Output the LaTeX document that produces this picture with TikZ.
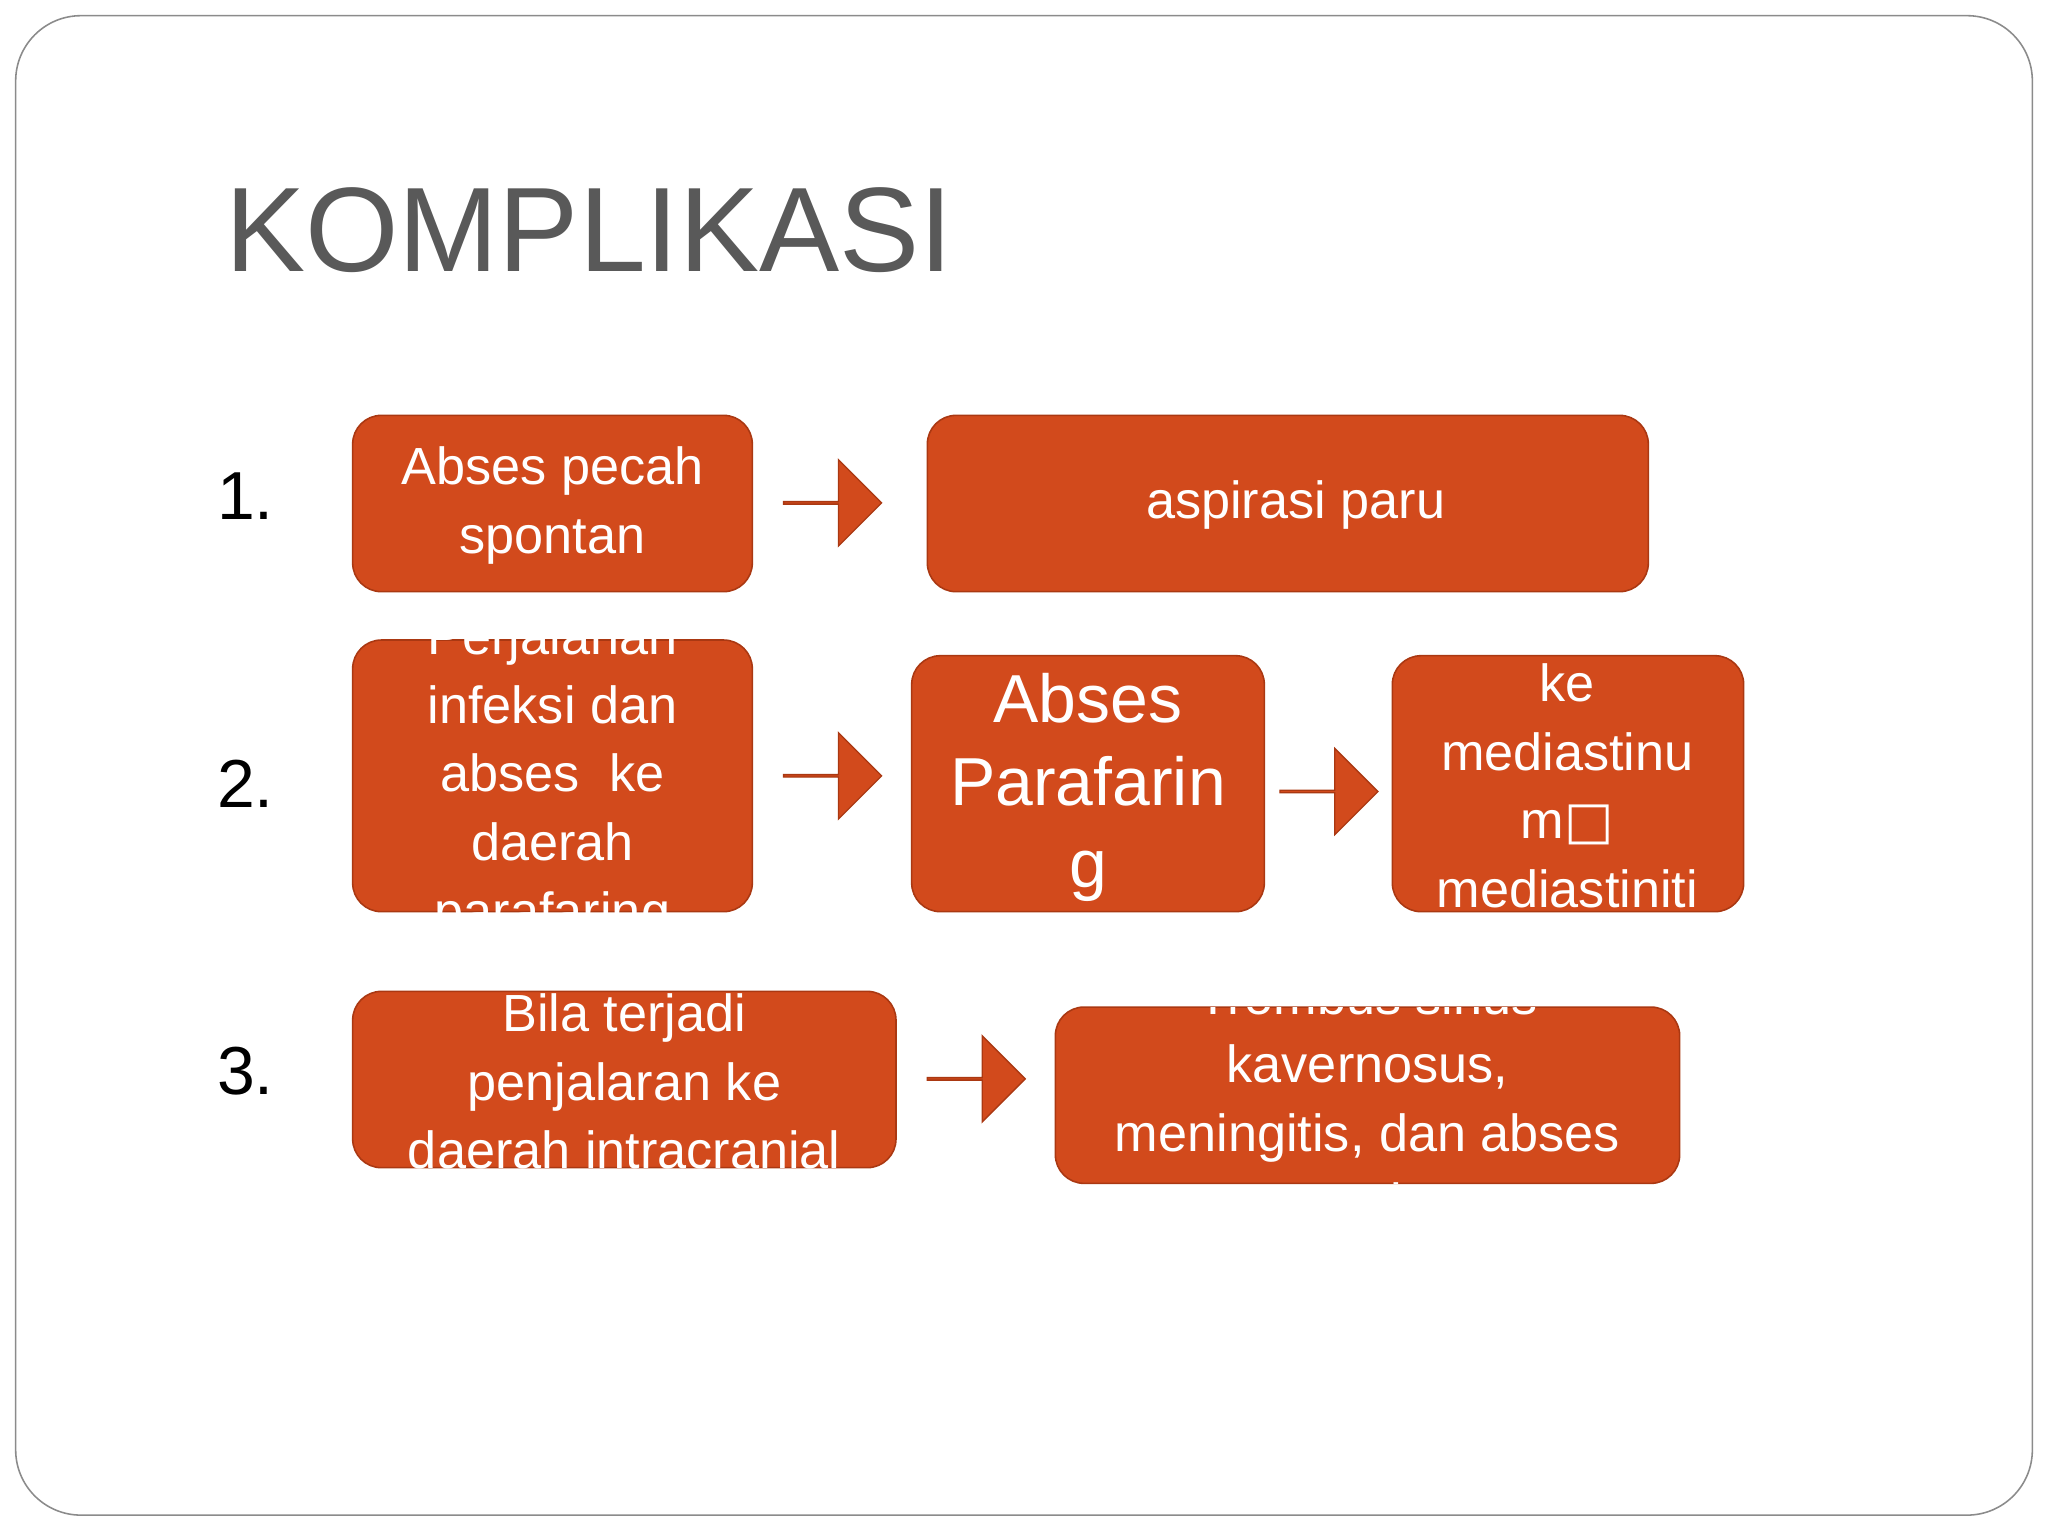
\documentclass[tikz,border=0pt]{standalone}
\usepackage{fontspec}
\setmainfont{Liberation Sans}
\newfontfamily\symfont{DejaVu Sans}
\usetikzlibrary{shapes.arrows}
\definecolor{boxfill}{RGB}{210,74,28}
\definecolor{boxline}{RGB}{170,56,18}
\definecolor{titlegray}{RGB}{89,89,89}
\tikzset{every picture/.style={line width=0.75pt}}
\tikzset{
  stepbox/.style={draw=boxline,fill=boxfill,rounded corners=22pt,line width=1.2pt},
  boxtext/.style={text=white,font=\fontsize{40}{52.5}\selectfont,align=center,inner sep=0pt},
  blockarrow/.style={single arrow,draw=boxline,fill=boxfill,minimum width=66pt,
    minimum height=75pt,single arrow head extend=17pt,inner sep=0pt,line width=1pt},
  numtext/.style={font=\fontsize{52}{60}\selectfont,anchor=base}
}
\begin{document}
\begin{tikzpicture}[x=1pt,y=1pt,yscale=-1]
\useasboundingbox (0,0) rectangle (1568,1176);
% frame
\draw [color=titlegray!70,line width=1.2pt,rounded corners=50pt] (12,12) rectangle (1556,1160);
% title
\node [anchor=base west,text=titlegray,font=\fontsize{92}{100}\selectfont,inner sep=0pt] (title) at (172,208) {KOMPLIKASI};
% numbers
\node [numtext] (n1) at (188,398) {1.};
\node [numtext] (n2) at (188,618) {2.};
\node [numtext] (n3) at (188,838) {3.};
% row 1
\draw [stepbox] (270,318) rectangle (576,453);
\node [boxtext] (abses) at (423,387) {Abses pecah\\spontan};
\draw [stepbox] (710,318) rectangle (1262,453);
\node [boxtext] (paru) at (992,387) {aspirasi paru};
% row 2
\draw [stepbox] (270,490) rectangle (576,698);
\begin{scope}
\clip (260,478) rectangle (586,702);
\node [boxtext] (infeksi) at (423,596) {Perjalanan\\infeksi dan\\abses\ \ ke\\daerah\\parafaring};
\end{scope}
\draw [stepbox] (698,502) rectangle (968,698);
\node [boxtext,font=\fontsize{52}{63}\selectfont] (parafaring) at (833,603) {Abses\\Parafarin\\g};
\draw [stepbox] (1066,502) rectangle (1335,698);
\begin{scope}
\clip (1056,500) rectangle (1345,700);
\node [boxtext] (medias) at (1200,628) {ke\\mediastinu\\m{\symfont □}\\mediastiniti\\s};
\end{scope}
% row 3
\draw [stepbox] (270,759) rectangle (686,894);
\begin{scope}
\clip (260,752) rectangle (696,900);
\node [boxtext] (terjadi) at (478,828) {Bila terjadi\\penjalaran ke\\daerah intracranial};
\end{scope}
\draw [stepbox] (808,771) rectangle (1286,906);
\begin{scope}
\clip (798,771) rectangle (1296,906);
\node [boxtext] (trombus) at (1047,841) {Trombus sinus\\kavernosus,\\meningitis, dan abses\\otak};
\end{scope}
% block arrows
\node [blockarrow] (a1) at (637,385) {};
\node [blockarrow] (a2) at (637,594) {};
\node [blockarrow] (a3) at (1017,606) {};
\node [blockarrow] (a4) at (747,826) {};
\end{tikzpicture}
\end{document}
